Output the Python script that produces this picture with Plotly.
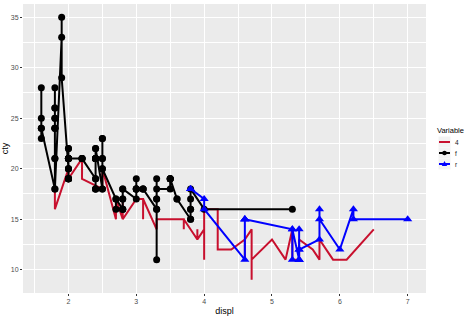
import plotly.graph_objects as go

# drv == "4" (sorted by displ, ties in data order)
displ_4 = [1.8, 1.8, 2.0, 2.0, 2.2, 2.2,
           2.5, 2.5, 2.5, 2.5, 2.5, 2.5, 2.5, 2.5, 2.5, 2.5, 2.5, 2.5,
           2.7, 2.7, 2.7, 2.7, 2.7, 2.8, 2.8, 2.8, 3.0, 3.1, 3.1, 3.1,
           3.3, 3.3, 3.4, 3.4, 3.4, 3.4, 3.7, 3.7, 3.7, 3.9, 3.9, 3.9,
           4.0, 4.0, 4.0, 4.0, 4.0, 4.0, 4.0, 4.0, 4.0, 4.0, 4.0, 4.0,
           4.2, 4.2, 4.2, 4.2, 4.4, 4.6, 4.6, 4.6, 4.6, 4.6, 4.6,
           4.7, 4.7, 4.7, 4.7, 4.7, 4.7, 4.7, 4.7, 4.7, 4.7, 4.7, 4.7,
           4.7, 4.7, 4.7, 4.7, 4.7,
           5.0, 5.0, 5.2, 5.2, 5.2, 5.2, 5.2, 5.3, 5.3, 5.4, 5.4, 5.6,
           5.7, 5.7, 5.7, 5.7, 5.7, 5.9, 5.9, 6.1, 6.5]
cty_4 = [18, 16, 20, 19, 21, 19,
         18, 18, 20, 19, 20, 18, 19, 19, 20, 20, 19, 20,
         15, 16, 15, 16, 17, 15, 17, 15, 17, 17, 15, 17,
         14, 15, 15, 15, 15, 15, 15, 14, 15, 13, 14, 13,
         14, 15, 14, 14, 15, 11, 14, 13, 14, 16, 15, 16,
         16, 14, 14, 12, 12, 13, 13, 13, 13, 11, 13,
         14, 14, 9, 13, 9, 13, 12, 9, 13, 13, 12, 9,
         14, 9, 14, 14, 11,
         13, 13, 11, 11, 11, 11, 11, 14, 11, 11, 13, 12,
         11, 13, 13, 13, 13, 11, 11, 11, 14]

# drv == "f"
displ_f = [1.6, 1.6, 1.6, 1.6, 1.6,
           1.8, 1.8, 1.8, 1.8, 1.8, 1.8, 1.8, 1.8, 1.8, 1.8, 1.8, 1.8,
           1.9, 1.9, 1.9,
           2.0, 2.0, 2.0, 2.0, 2.0, 2.0, 2.0, 2.0, 2.0, 2.0, 2.0, 2.0,
           2.0, 2.0, 2.0, 2.0, 2.0, 2.0, 2.0,
           2.2, 2.2, 2.2, 2.2,
           2.4, 2.4, 2.4, 2.4, 2.4, 2.4, 2.4, 2.4, 2.4, 2.4, 2.4, 2.4, 2.4,
           2.5, 2.5, 2.5, 2.5, 2.5, 2.5, 2.5, 2.5,
           2.7, 2.7, 2.7,
           2.8, 2.8, 2.8, 2.8, 2.8, 2.8, 2.8,
           3.0, 3.0, 3.0, 3.0, 3.0, 3.0, 3.0,
           3.1, 3.1, 3.1,
           3.3, 3.3, 3.3, 3.3, 3.3, 3.3, 3.3,
           3.5, 3.5, 3.5, 3.5, 3.5,
           3.6, 3.6,
           3.8, 3.8, 3.8, 3.8, 3.8, 3.8,
           4.0, 5.3]
cty_f = [28, 24, 25, 23, 24,
         18, 21, 26, 25, 24, 24, 24, 26, 25, 28, 21, 18,
         33, 35, 29,
         20, 21, 21, 19, 19, 20, 20, 21, 19, 21, 22, 21,
         19, 22, 21, 21, 19, 19, 21,
         21, 21, 21, 21,
         19, 22, 18, 18, 18, 21, 21, 21, 19, 21, 21, 21, 22,
         18, 18, 23, 23, 21, 21, 20, 20,
         17, 16, 17,
         16, 18, 17, 16, 17, 16, 18,
         17, 18, 19, 18, 18, 18, 18,
         18, 18, 18,
         16, 16, 17, 17, 11, 19, 18,
         18, 19, 19, 19, 19,
         17, 17,
         15, 15, 16, 16, 17, 18,
         16, 16]

# drv == "r"
displ_r = [3.8, 3.8, 4.0, 4.0, 4.6, 4.6, 4.6, 4.6, 4.6,
           5.3, 5.3, 5.3, 5.4, 5.4, 5.4, 5.4, 5.4, 5.4,
           5.7, 5.7, 5.7, 6.0, 6.2, 6.2, 7.0]
cty_r = [18, 18, 17, 16, 11, 15, 15, 15, 15,
         14, 11, 14, 11, 12, 14, 11, 11, 12,
         13, 16, 15, 12, 16, 15, 15]

x_ticks = [2, 3, 4, 5, 6, 7]
y_ticks = [10, 15, 20, 25, 30, 35]

legend_title = "Variable"
legend_labels = ["4", "f", "r"]
series_colors = ["#C8102E", "#000000", "#0000FF"]

FONT = "Liberation Sans, Arial, sans-serif"
W, H = 474, 316
ML, MR, MT, MB = 23, 48, 4, 23
PW, PH = W - ML - MR, H - MT - MB


def px(x):
    return (x - ML) / PW


def py(y):
    return (H - MB - y) / PH


fig = go.Figure()
fig.add_trace(go.Scatter(x=displ_4, y=cty_4, mode="lines", name=legend_labels[0],
                         line=dict(color=series_colors[0], width=2), showlegend=False))
fig.add_trace(go.Scatter(x=displ_f, y=cty_f, mode="lines+markers", name=legend_labels[1],
                         line=dict(color=series_colors[1], width=2),
                         marker=dict(symbol="circle", size=7, color=series_colors[1]),
                         showlegend=False))
fig.add_trace(go.Scatter(x=displ_r, y=cty_r, mode="lines+markers", name=legend_labels[2],
                         line=dict(color=series_colors[2], width=2),
                         marker=dict(symbol="triangle-up", size=8, color=series_colors[2]),
                         showlegend=False))

# manual ggplot-style legend
shapes = []
annotations = [dict(text=legend_title, x=px(435), y=py(130), xref="paper", yref="paper",
                    xanchor="left", yanchor="middle", showarrow=False,
                    font=dict(family=FONT, size=7.5, color="#000000"))]
key_y = [142, 153, 164]
for i, (lab, col) in enumerate(zip(legend_labels, series_colors)):
    yc = key_y[i]
    shapes.append(dict(type="rect", xref="paper", yref="paper",
                       x0=px(438.5), x1=px(450.5), y0=py(yc + 5.5), y1=py(yc - 5.5),
                       fillcolor="#F2F2F2", line=dict(width=0), layer="above"))
    shapes.append(dict(type="line", xref="paper", yref="paper",
                       x0=px(439), x1=px(450), y0=py(yc), y1=py(yc),
                       line=dict(color=col, width=2), layer="above"))
    if i == 1:
        shapes.append(dict(type="circle", xref="paper", yref="paper",
                           x0=px(442.2), x1=px(446.8), y0=py(yc + 2.3), y1=py(yc - 2.3),
                           fillcolor=col, line=dict(width=0), layer="above"))
    if i == 2:
        p = "M {:.5f},{:.5f} L {:.5f},{:.5f} L {:.5f},{:.5f} Z".format(
            px(444.5), py(yc - 3), px(441.8), py(yc + 2), px(447.2), py(yc + 2))
        shapes.append(dict(type="path", xref="paper", yref="paper", path=p,
                           fillcolor=col, line=dict(width=0), layer="above"))
    annotations.append(dict(text=lab, x=px(453), y=py(yc), xref="paper", yref="paper",
                            xanchor="left", yanchor="middle", showarrow=False,
                            font=dict(family=FONT, size=6.5, color="#1A1A1A")))

axis_common = dict(
    showgrid=True, gridcolor="#FFFFFF", gridwidth=1,
    zeroline=False, showline=False,
    ticks="outside", ticklen=2, tickcolor="#333333", tickwidth=1,
    tickfont=dict(family=FONT, size=7, color="#4D4D4D"),
)

fig.update_layout(
    width=W, height=H,
    margin=dict(l=ML, r=MR, t=MT, b=MB, autoexpand=False),
    paper_bgcolor="#FFFFFF", plot_bgcolor="#EBEBEB",
    font=dict(family=FONT, color="#000000"),
    showlegend=False,
    xaxis=dict(range=[1.33, 7.27], tickvals=x_ticks,
               minor=dict(dtick=0.5, tick0=1.5, showgrid=True, gridcolor="#FFFFFF", gridwidth=0.5, ticks=""),
               title=dict(text="displ", font=dict(family=FONT, size=9), standoff=4),
               **axis_common),
    yaxis=dict(range=[7.7, 36.3], tickvals=y_ticks,
               minor=dict(dtick=2.5, tick0=7.5, showgrid=True, gridcolor="#FFFFFF", gridwidth=0.5, ticks=""),
               title=dict(text="cty", font=dict(family=FONT, size=9), standoff=4),
               **axis_common),
    shapes=shapes,
    annotations=annotations,
)

fig.write_html("out.html")
